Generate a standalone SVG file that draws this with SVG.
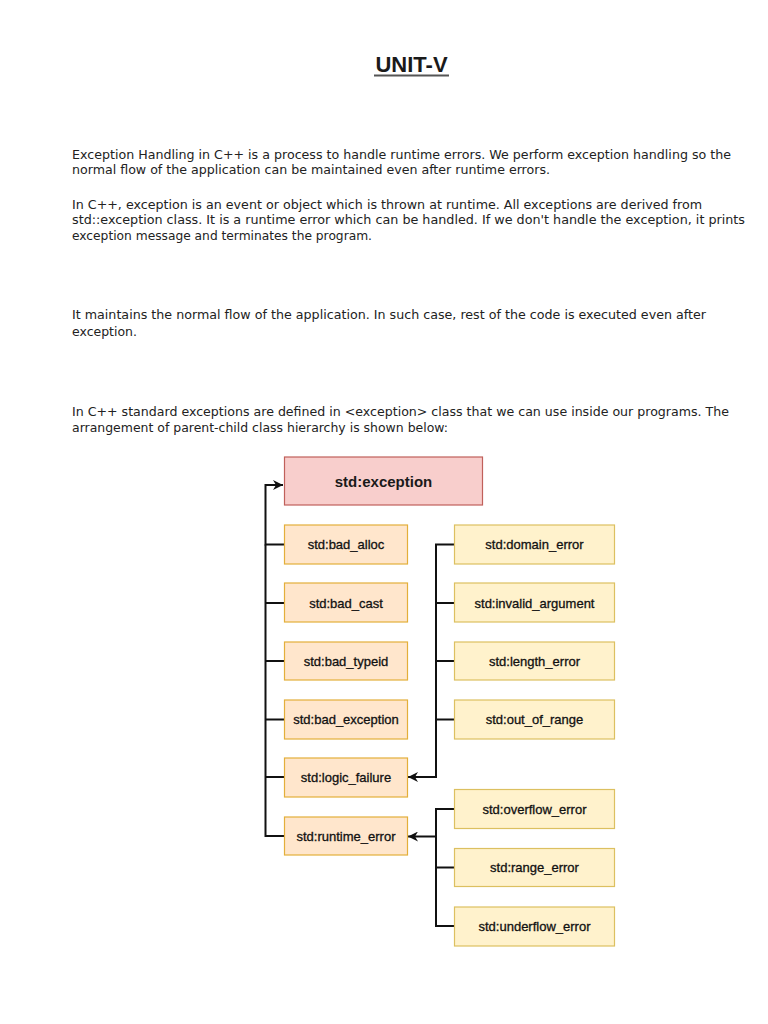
<svg xmlns="http://www.w3.org/2000/svg" width="768" height="1024" viewBox="0 0 768 1024">
<style>
.body{font-family:"DejaVu Sans","Liberation Sans",sans-serif;font-size:12px;fill:#222}
.title{font-family:"Liberation Sans",Arial,sans-serif;font-size:22px;font-weight:bold;fill:#1a1a1a}
.root{fill:#f8cecc;stroke:#c0605a;stroke-width:1.2}
.l{fill:#ffe6cc;stroke:#e3af3a;stroke-width:1.2}
.r{fill:#fff2cc;stroke:#dcc060;stroke-width:1.2}
.lbl{font-family:"Liberation Sans",Arial,sans-serif;font-size:13px;fill:#111;stroke:#111;stroke-width:0.3;text-anchor:middle}
.rootlbl{font-family:"Liberation Sans",Arial,sans-serif;font-size:15px;font-weight:bold;fill:#1a1a1a;text-anchor:middle}
.c{fill:none;stroke:#111;stroke-width:2}
</style>
<defs>
<marker id="arr" viewBox="0 0 10 10" refX="10" refY="5" markerWidth="10" markerHeight="10" markerUnits="userSpaceOnUse" orient="auto">
<path d="M0,0 L10,5 L0,10 L3,5 Z" fill="#111"/>
</marker>
</defs>
<rect width="768" height="1024" fill="#fff"/>

<g id="heading">
<text class="title" x="411.5" y="72" text-anchor="middle">UNIT-V</text>
<line x1="374" y1="75.5" x2="449" y2="75.5" stroke="#555" stroke-width="2"/>
</g>

<g id="paragraphs">
<text class="body" x="72" y="159" textLength="659" lengthAdjust="spacingAndGlyphs">Exception Handling in C++ is a process to handle runtime errors. We perform exception handling so the</text>
<text class="body" x="72" y="174" textLength="478" lengthAdjust="spacingAndGlyphs">normal flow of the application can be maintained even after runtime errors.</text>
<text class="body" x="72" y="209" textLength="630" lengthAdjust="spacingAndGlyphs">In C++, exception is an event or object which is thrown at runtime. All exceptions are derived from</text>
<text class="body" x="72" y="224" textLength="673" lengthAdjust="spacingAndGlyphs">std::exception class. It is a runtime error which can be handled. If we don't handle the exception, it prints</text>
<text class="body" x="72" y="240" textLength="300" lengthAdjust="spacingAndGlyphs">exception message and terminates the program.</text>
<text class="body" x="72" y="319" textLength="634" lengthAdjust="spacingAndGlyphs">It maintains the normal flow of the application. In such case, rest of the code is executed even after</text>
<text class="body" x="72" y="336" textLength="65" lengthAdjust="spacingAndGlyphs">exception.</text>
<text class="body" x="72" y="416" textLength="657" lengthAdjust="spacingAndGlyphs">In C++ standard exceptions are defined in &lt;exception&gt; class that we can use inside our programs. The</text>
<text class="body" x="72" y="432" textLength="376" lengthAdjust="spacingAndGlyphs">arrangement of parent-child class hierarchy is shown below:</text>
</g>

<g id="connectors">
<path class="c" d="M284,544.5 H265.5 V485 H283" marker-end="url(#arr)"/>
<path class="c" d="M265.5,544.5 V836 H284"/>
<path class="c" d="M265.5,603 H284"/>
<path class="c" d="M265.5,661 H284"/>
<path class="c" d="M265.5,719.5 H284"/>
<path class="c" d="M265.5,777 H284"/>
<path class="c" d="M454,544.5 H436 V777 H408" marker-end="url(#arr)"/>
<path class="c" d="M436,603 H454"/>
<path class="c" d="M436,661 H454"/>
<path class="c" d="M436,719.5 H454"/>
<path class="c" d="M454,809 H436 V926 H454"/>
<path class="c" d="M436,867.5 H454"/>
<path class="c" d="M436,836.5 H408" marker-end="url(#arr)"/>
</g>

<g id="std-exception">
<rect class="root" x="284.5" y="457" width="198" height="48"/>
<text class="rootlbl" x="383.5" y="486.5">std:exception</text>
</g>

<g id="bad-alloc"><rect class="l" x="284.5" y="525" width="123" height="39"/><text class="lbl" x="346" y="549">std:bad_alloc</text></g>
<g id="bad-cast"><rect class="l" x="284.5" y="583" width="123" height="39"/><text class="lbl" x="346" y="607.5">std:bad_cast</text></g>
<g id="bad-typeid"><rect class="l" x="284.5" y="642" width="123" height="38"/><text class="lbl" x="346" y="665.5">std:bad_typeid</text></g>
<g id="bad-exception"><rect class="l" x="284.5" y="700" width="123" height="39"/><text class="lbl" x="346" y="724">std:bad_exception</text></g>
<g id="logic-failure"><rect class="l" x="284.5" y="758" width="123" height="39"/><text class="lbl" x="346" y="782">std:logic_failure</text></g>
<g id="runtime-error"><rect class="l" x="284.5" y="817" width="123" height="38"/><text class="lbl" x="346" y="840.5">std:runtime_error</text></g>

<g id="domain-error"><rect class="r" x="454.5" y="525" width="160" height="39"/><text class="lbl" x="534.5" y="549">std:domain_error</text></g>
<g id="invalid-argument"><rect class="r" x="454.5" y="583" width="160" height="39"/><text class="lbl" x="534.5" y="607.5">std:invalid_argument</text></g>
<g id="length-error"><rect class="r" x="454.5" y="642" width="160" height="38"/><text class="lbl" x="534.5" y="665.5">std:length_error</text></g>
<g id="out-of-range"><rect class="r" x="454.5" y="700" width="160" height="39"/><text class="lbl" x="534.5" y="724">std:out_of_range</text></g>
<g id="overflow-error"><rect class="r" x="454.5" y="789.5" width="160" height="39"/><text class="lbl" x="534.5" y="813.5">std:overflow_error</text></g>
<g id="range-error"><rect class="r" x="454.5" y="848.5" width="160" height="38"/><text class="lbl" x="534.5" y="872">std:range_error</text></g>
<g id="underflow-error"><rect class="r" x="454.5" y="907" width="160" height="39"/><text class="lbl" x="534.5" y="931">std:underflow_error</text></g>
</svg>
